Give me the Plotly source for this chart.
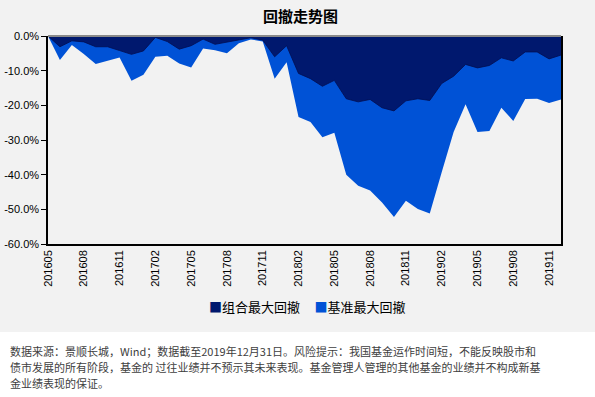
import plotly.graph_objects as go

months = ["201605","201606","201607","201608","201609","201610","201611","201612",
          "201701","201702","201703","201704","201705","201706","201707","201708",
          "201709","201710","201711","201712","201801","201802","201803","201804",
          "201805","201806","201807","201808","201809","201810","201811","201812",
          "201901","201902","201903","201904","201905","201906","201907","201908",
          "201909","201910","201911","201912"]

portfolio_dd = [0, -3.1, -1.4, -1.7, -3.1, -3.1, -4.2, -5.3, -4.3, -0.4, -1.6, -3.8,
                -2.8, -0.9, -2.4, -1.8, -1.2, -0.5, -1.2, -6.0, -2.8, -10.8, -12.3, -14.5,
                -12.8, -18.1, -19.0, -18.3, -20.7, -21.6, -18.7, -18.1, -18.6, -13.7, -11.6, -8.2,
                -9.2, -8.5, -6.3, -7.2, -4.6, -4.6, -6.6, -5.5]

benchmark_dd = [0, -6.9, -2.6, -5.2, -8.1, -7.2, -6.2, -12.9, -11.2, -6.0, -5.7, -7.9,
                -9.1, -3.6, -4.1, -5.0, -2.1, -1.0, -1.6, -12.3, -7.6, -23.4, -24.8, -29.2,
                -27.9, -40.0, -43.2, -44.6, -48.0, -52.2, -47.5, -49.9, -51.2, -39.3, -27.7, -19.7,
                -27.7, -27.4, -20.7, -24.5, -18.2, -18.1, -19.3, -18.3]

series_names = ["组合最大回撤", "基准最大回撤"]
x_tick_labels = months[::3]
y_tick_vals = [0, -10, -20, -30, -40, -50, -60]
y_tick_text = ["0.0%", "-10.0%", "-20.0%", "-30.0%", "-40.0%", "-50.0%", "-60.0%"]

title_text = "回撤走势图"
footnote_lines = ["数据来源：景顺长城，Wind；数据截至2019年12月31日。风险提示：我国基金运作时间短，不能反映股市和",
                  "债市发展的所有阶段，基金的 过往业绩并不预示其未来表现。基金管理人管理的其他基金的业绩并不构成新基",
                  "金业绩表现的保证。"]

DARK = "#00186e"
BLUE = "#0052d6"
LATIN = "Liberation Sans, Arial, Noto Sans CJK SC"
CJK = "Noto Sans CJK SC, Liberation Sans"

fig = go.Figure()
fig.add_trace(go.Scatter(x=months, y=benchmark_dd, name=series_names[1], mode="lines",
                         line=dict(width=0, color=BLUE), fill="tozeroy", fillcolor=BLUE,
                         showlegend=False, hoverinfo="skip"))
fig.add_trace(go.Scatter(x=months, y=portfolio_dd, name=series_names[0], mode="lines",
                         line=dict(width=0.8, color="#000e50"), fill="tozeroy", fillcolor=DARK,
                         showlegend=False, hoverinfo="skip"))

W, H = 595, 397
L, R, T, B = 48, 34, 36, 153
ph = H - T - B
pw = W - L - R

def py(p):
    return (H - B - p) / ph

def px(p):
    return (p - L) / pw

fig.update_layout(
    width=W, height=H,
    margin=dict(l=L, r=R, t=T, b=B, autoexpand=False),
    paper_bgcolor="#f2f2f2",
    plot_bgcolor="#f2f2f2",
    showlegend=False,
    font=dict(family=LATIN, size=11, color="#000000"),
    title=dict(text="<b>" + title_text + "</b>", x=0.505, xref="container", xanchor="center",
               y=1 - 17 / H, yref="container", yanchor="middle",
               font=dict(family=CJK, size=15, color="#000000")),
    xaxis=dict(type="category", range=[0, len(months) - 1], tickmode="array",
               tickvals=x_tick_labels, ticktext=x_tick_labels, tickangle=-90, automargin=False,
               showgrid=False, zeroline=False, showline=True, linecolor="#000000", linewidth=1.5,
               ticks="", tickfont=dict(family=LATIN, size=11, color="#000000")),
    yaxis=dict(range=[-60, 0], tickmode="array", tickvals=y_tick_vals, ticktext=y_tick_text,
               automargin=False,
               showgrid=False, zeroline=False, showline=True, linecolor="#000000", linewidth=1.5,
               mirror=True, ticks="outside", ticklen=5, tickcolor="#000000", tickwidth=1,
               tickfont=dict(family=LATIN, size=11, color="#000000")),
)

shapes = [
    dict(type="rect", xref="paper", yref="paper", x0=px(0), x1=px(W), y0=py(H), y1=py(332),
         fillcolor="#ffffff", line=dict(width=0), layer="below"),
    dict(type="line", xref="paper", yref="paper", x0=0, x1=1, y0=1, y1=1,
         line=dict(color="#8a8a8a", width=2)),
]
fig.update_layout(shapes=shapes)

legend_text = ('<span style="color:%s">■</span>%s     <span style="color:%s">■</span>%s'
               % (DARK, series_names[0], BLUE, series_names[1]))
fig.add_annotation(text=legend_text, xref="paper", yref="paper", x=px(207), y=py(306),
                   xanchor="left", yanchor="middle", showarrow=False,
                   font=dict(family=CJK, size=13, color="#000000"))

line_y = [350.5, 366.5, 382.5]
for txt, yy in zip(footnote_lines, line_y):
    fig.add_annotation(text=txt, xref="paper", yref="paper", x=px(9), y=py(yy),
                       xanchor="left", yanchor="middle", align="left", showarrow=False,
                       borderpad=0, font=dict(family=CJK, size=11, color="#404040"))

fig.write_html("out.html", config={"displayModeBar": False},
               post_script="document.body.style.margin='0';document.body.style.overflow='hidden';")
